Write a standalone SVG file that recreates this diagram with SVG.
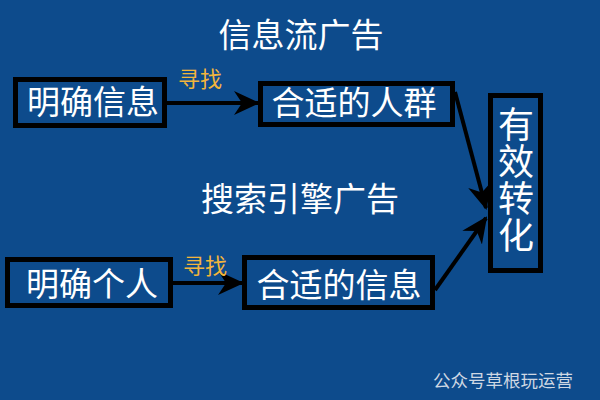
<svg xmlns="http://www.w3.org/2000/svg" width="600" height="400" viewBox="0 0 600 400">
<defs>
<marker id="ah" markerUnits="userSpaceOnUse" markerWidth="26" markerHeight="24" viewBox="0 0 26 24" refX="24" refY="12" orient="auto">
<path d="M0,0 L26,12 L0,24 L8,12 Z" fill="#000"/>
</marker>
<style>
.box{fill:#0d4b8c;stroke:#000;stroke-width:5}
.t{font-family:"Noto Sans CJK SC","Microsoft YaHei",sans-serif;fill:#fff;text-anchor:middle}
.bt{font-size:33px}
.title{font-size:33px}
.vt{font-size:36px;writing-mode:vertical-rl;letter-spacing:1px}
.lbl{font-family:"Noto Sans CJK SC",sans-serif;fill:#f2b53c;font-size:22px;text-anchor:middle}
.wm{font-family:"Noto Sans CJK SC",sans-serif;fill:#cfd8e3;font-size:17.5px}
.conn line{stroke:#000;stroke-width:4;marker-end:url(#ah)}
</style>
</defs>
<rect width="600" height="400" fill="#0d4b8c"/>
<text class="t title" x="301" y="47">信息流广告</text>
<text class="t title" x="300" y="211">搜索引擎广告</text>
<g id="n1"><rect class="box" x="15.5" y="79.5" width="149" height="46"/><text class="t bt" x="93" y="114">明确信息</text></g>
<g id="n2"><rect class="box" x="260.5" y="83.5" width="192" height="41"/><text class="t bt" x="354" y="115">合适的人群</text></g>
<g id="n3"><rect class="box" x="490.5" y="95.5" width="50" height="175"/>
<text class="t vt" x="516" y="180">有效转化</text></g>
<g id="n4"><rect class="box" x="7.5" y="259.5" width="163" height="46"/><text class="t bt" x="92" y="296">明确个人</text></g>
<g id="n5"><rect class="box" x="244.5" y="257.5" width="188" height="50"/><text class="t bt" x="339" y="297">合适的信息</text></g>
<g class="conn">
<line x1="167" y1="103" x2="258" y2="103"/>
<line x1="173" y1="283" x2="242" y2="283"/>
<line x1="455" y1="92" x2="486" y2="208"/>
<line x1="435" y1="290" x2="486" y2="218"/>
</g>
<text class="lbl" x="200" y="87">寻找</text>
<text class="lbl" x="205" y="274">寻找</text>
<text class="wm" x="433" y="387">公众号草根玩运营</text>
</svg>
